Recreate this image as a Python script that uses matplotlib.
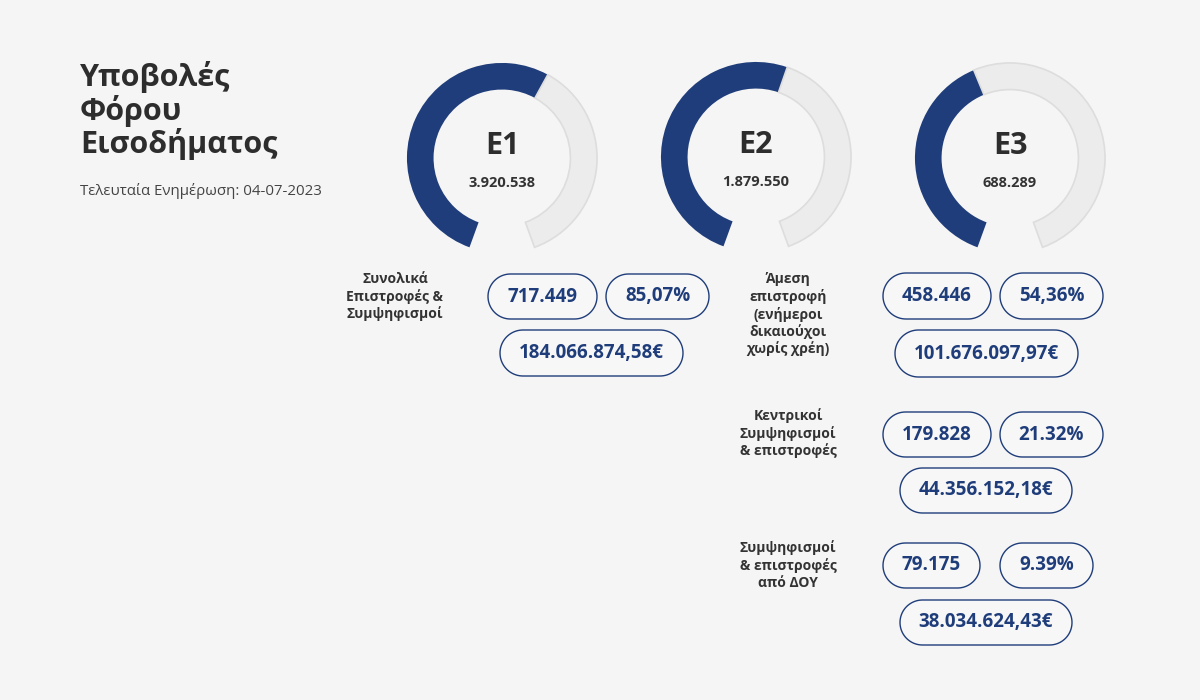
import matplotlib
matplotlib.use("Agg")
from matplotlib import pyplot as plt
from matplotlib.path import Path
from matplotlib.patches import PathPatch
import numpy as np

plt.rcParams['font.family'] = ['Open Sans', 'DejaVu Sans']

# gauges
gauge_names = ['E1', 'E2', 'E3']
gauge_totals = ['3.920.538', '1.879.550', '688.289']
gauge_share = [0.59, 0.56, 0.43]

# refund groups
group_labels = [
    'Συνολικά\nΕπιστροφές &\nΣυμψηφισμοί',
    'Άμεση\nεπιστροφή\n(ενήμεροι\nδικαιούχοι\nχωρίς χρέη)',
    'Κεντρικοί\nΣυμψηφισμοί\n& επιστροφές',
    'Συμψηφισμοί\n& επιστροφές\nαπό ΔΟΥ',
]
group_counts = ['717.449', '458.446', '179.828', '79.175']
group_pcts = ['85,07%', '54,36%', '21.32%', '9.39%']
group_amounts = ['184.066.874,58€', '101.676.097,97€', '44.356.152,18€', '38.034.624,43€']

BG = '#f5f5f5'
BLUE = '#1f3d7a'
DARK = '#333333'
GREY = '#ececec'

W, H = 1200, 700
fig = plt.figure(figsize=(12, 7), dpi=100, facecolor=BG)
ax = fig.add_axes([0, 0, 1, 1])
ax.set_xlim(0, W)
ax.set_ylim(H, 0)
ax.axis('off')

# title block
for y, line in zip([77, 111, 144], ['Υποβολές', 'Φόρου', 'Εισοδήματος']):
    ax.text(80, y, line, fontsize=22, fontweight='bold', color='#2d2d2d',
            ha='left', va='center')
ax.text(80, 191, 'Τελευταία Ενημέρωση: 04-07-2023', fontsize=10.8,
        color='#444444', ha='left', va='center')

# gauge rings: 320 degree track with a gap at the bottom
gauge_centers = [(502, 158), (756, 157), (1010, 158)]
R = 96
SPAN = 320
for (cx, cy), name, total, share in zip(gauge_centers, gauge_names, gauge_totals, gauge_share):
    gax = fig.add_axes([(cx - R) / W, 1 - (cy + R) / H, 2 * R / W, 2 * R / H])
    vals = [share * SPAN, (1 - share) * SPAN, 360 - SPAN]
    wedges, _ = gax.pie(vals, startangle=270 - (360 - SPAN) / 2, counterclock=False,
                        radius=1, wedgeprops=dict(width=0.28, linewidth=0))
    wedges[0].set_facecolor(BLUE)
    wedges[1].set_facecolor(GREY)
    wedges[1].set_edgecolor('#dddddd')
    wedges[1].set_linewidth(1.2)
    wedges[2].set_visible(False)
    gax.set_xlim(-1.01, 1.01)
    gax.set_ylim(-1.01, 1.01)
    gax.set_facecolor('none')
    ax.text(cx, cy - 12, name, fontsize=22, fontweight='bold', color='#2d2d2d',
            ha='center', va='center')
    ax.text(cx, cy + 25, total, fontsize=10.5, fontweight='bold', color=DARK,
            ha='center', va='center')

# layout: label centre x, first label line y, count pill, pct pill, amount pill (x0, x1, y0, y1)
layout = [
    (395, 279, (488, 597, 274, 319), (606, 709, 274, 319), (500, 683, 330, 376)),
    (788, 279, (883, 991, 273, 319), (1000, 1103, 273, 319), (895, 1078, 330, 377)),
    (788, 416, (883, 991, 412, 457), (1000, 1103, 412, 457), (900, 1072, 468, 513)),
    (788, 548, (883, 980, 543, 588), (1000, 1093, 543, 588), (900, 1072, 600, 645)),
]


def pill(box, text):
    """Stadium shaped box with centred text"""
    x0, x1, y0, y1 = box
    r = (y1 - y0) / 2
    yc = (y0 + y1) / 2
    t_right = np.linspace(-np.pi / 2, np.pi / 2, 40)
    t_left = np.linspace(np.pi / 2, 3 * np.pi / 2, 40)
    xs = np.concatenate([x1 - r + r * np.cos(t_right), x0 + r + r * np.cos(t_left)])
    ys = np.concatenate([yc + r * np.sin(t_right), yc + r * np.sin(t_left)])
    verts = np.column_stack([np.append(xs, xs[0]), np.append(ys, ys[0])])
    codes = [Path.MOVETO] + [Path.LINETO] * (len(verts) - 2) + [Path.CLOSEPOLY]
    ax.add_patch(PathPatch(Path(verts, codes), facecolor='#f7f7f7',
                           edgecolor=BLUE, linewidth=1.0))
    ax.text((x0 + x1) / 2, yc, text, fontsize=13.5, fontweight='bold',
            color=BLUE, ha='center', va='center')


for (lx, ly, b1, b2, b3), label, cnt, pct, amt in zip(layout, group_labels, group_counts,
                                                      group_pcts, group_amounts):
    for i, line in enumerate(label.split('\n')):
        ax.text(lx, ly + i * 17.5, line, fontsize=10, fontweight='bold', color=DARK,
                ha='center', va='center')
    pill(b1, cnt)
    pill(b2, pct)
    pill(b3, amt)

fig.savefig('out.png', dpi=100, facecolor=BG)
